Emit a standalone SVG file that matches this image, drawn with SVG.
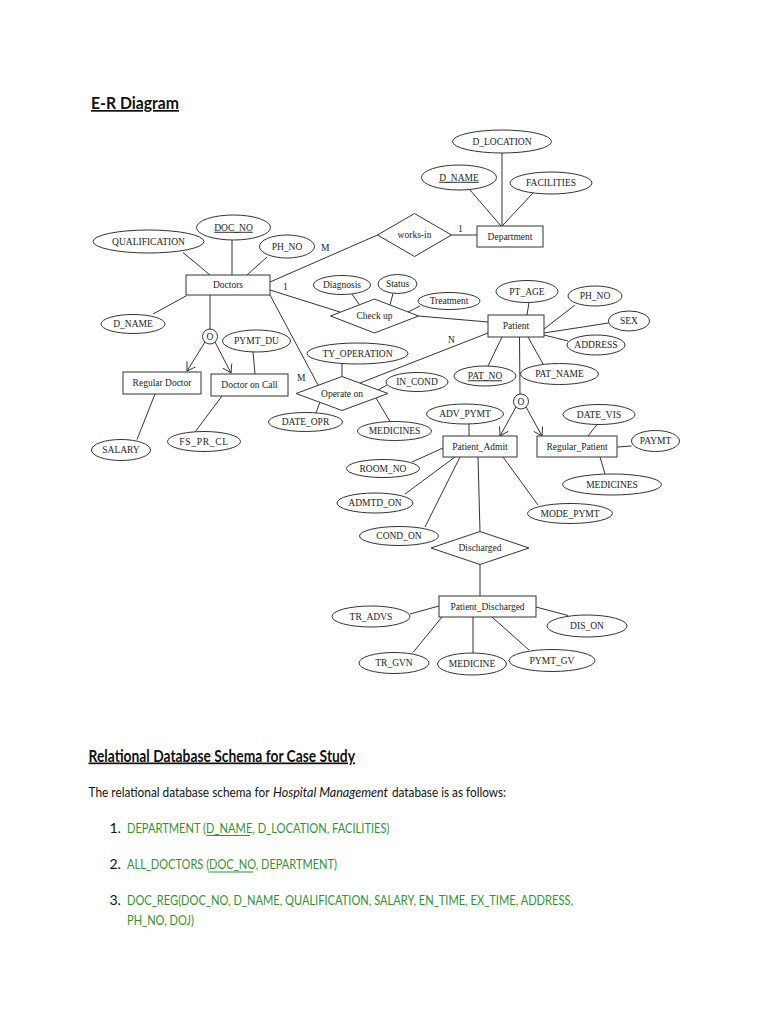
<svg xmlns="http://www.w3.org/2000/svg" width="768" height="1024" viewBox="0 0 768 1024">
<style>
.e{fill:#fff;stroke:#333;stroke-width:1}
.r{fill:#fff;stroke:#333;stroke-width:1}
.t{font-family:"Liberation Serif","Times New Roman",serif;font-size:9.5px;fill:#222;text-anchor:middle}
.c line{stroke:#333;stroke-width:1}
.lbl{font-family:"Liberation Serif","Times New Roman",serif;font-size:9.5px;fill:#222}
.h{font-family:Lato,"Liberation Sans",sans-serif;font-weight:bold;font-size:17px;fill:#111;text-decoration:underline}
.b{font-family:Lato,"Liberation Sans",sans-serif;font-size:14px;fill:#111}
.g{font-family:Lato,"Liberation Sans",sans-serif;font-size:14px;fill:#2f922f}
.n{font-family:Lato,"Liberation Sans",sans-serif;font-size:14px;fill:#111}
.u{text-decoration:underline}
.gu{stroke:#2f922f;stroke-width:1}
</style>
<defs>
<marker id="v" markerWidth="12" markerHeight="12" refX="10" refY="6" orient="auto" markerUnits="userSpaceOnUse">
<path d="M2,1 L10,6 L2,11" fill="none" stroke="#333" stroke-width="1"/>
</marker>
</defs>
<rect width="768" height="1024" fill="#fff"/>
<text class="h" x="91" y="109" textLength="88" lengthAdjust="spacingAndGlyphs">E-R Diagram</text>

<g id="connectors" class="c">
<line x1="502" y1="153" x2="502" y2="226"/>
<line x1="470" y1="190" x2="501" y2="226"/>
<line x1="533" y1="193" x2="502" y2="226"/>
<line x1="451.5" y1="235" x2="477" y2="235"/>
<line x1="270" y1="282" x2="377.5" y2="235"/>
<line x1="183" y1="252.5" x2="210" y2="275"/>
<line x1="232" y1="240" x2="232" y2="275"/>
<line x1="267" y1="257" x2="247" y2="275"/>
<line x1="186" y1="296" x2="153" y2="314"/>
<line x1="210" y1="295" x2="210" y2="329"/>
<line x1="205" y1="342" x2="187" y2="371" marker-end="url(#v)"/>
<line x1="215" y1="342" x2="231" y2="373" marker-end="url(#v)"/>
<line x1="253" y1="352" x2="255" y2="374"/>
<line x1="155" y1="394" x2="137" y2="439.5"/>
<line x1="222" y1="396" x2="195" y2="432"/>
<line x1="270" y1="290" x2="340" y2="312"/>
<line x1="352" y1="294" x2="360" y2="305.5"/>
<line x1="393" y1="293.5" x2="390" y2="305"/>
<line x1="420" y1="306" x2="408" y2="312"/>
<line x1="418.5" y1="316" x2="488" y2="322"/>
<line x1="270" y1="295" x2="318" y2="385"/>
<line x1="342" y1="364" x2="342" y2="376.5"/>
<line x1="387" y1="385" x2="378" y2="390"/>
<line x1="320" y1="402" x2="316" y2="413"/>
<line x1="376" y1="398" x2="390" y2="421.5"/>
<line x1="360" y1="383" x2="488" y2="333"/>
<line x1="529" y1="302.5" x2="527" y2="315"/>
<line x1="575" y1="305" x2="544" y2="329"/>
<line x1="608.5" y1="323" x2="544" y2="333"/>
<line x1="568" y1="341" x2="544" y2="335"/>
<line x1="488" y1="366" x2="502" y2="337"/>
<line x1="543" y1="364" x2="528" y2="337"/>
<line x1="519.5" y1="337" x2="520" y2="394"/>
<line x1="516" y1="407" x2="500" y2="436" marker-end="url(#v)"/>
<line x1="526" y1="407" x2="542" y2="436" marker-end="url(#v)"/>
<line x1="469" y1="424" x2="469" y2="436"/>
<line x1="597" y1="424.5" x2="588" y2="436"/>
<line x1="631.5" y1="446" x2="617" y2="447"/>
<line x1="605" y1="474" x2="600" y2="457"/>
<line x1="412" y1="462" x2="443" y2="448"/>
<line x1="405" y1="494" x2="455" y2="457"/>
<line x1="425" y1="527" x2="460" y2="457"/>
<line x1="538" y1="505" x2="503" y2="457"/>
<line x1="478" y1="457" x2="480" y2="531.5"/>
<line x1="480" y1="564.5" x2="480" y2="596"/>
<line x1="410" y1="614" x2="439" y2="606"/>
<line x1="568" y1="615.5" x2="536" y2="607"/>
<line x1="413" y1="652.5" x2="442" y2="617"/>
<line x1="473" y1="653" x2="473" y2="617"/>
<line x1="529" y1="650" x2="492" y2="617"/>
<text class="lbl" x="458" y="232">1</text>
<text class="lbl" x="321" y="251">M</text>
<text class="lbl" x="283" y="290">1</text>
<text class="lbl" x="297" y="381">M</text>
<text class="lbl" x="448" y="343">N</text>
</g>

<g id="D_LOCATION"><ellipse class="e" cx="502" cy="141.5" rx="49.5" ry="11.5"/><text class="t" x="502" y="144.8">D_LOCATION</text></g>
<g id="DEPT_D_NAME"><ellipse class="e" cx="459" cy="177.5" rx="37.5" ry="12.5"/><text class="t u" x="459" y="180.8">D_NAME</text></g>
<g id="FACILITIES"><ellipse class="e" cx="551" cy="183" rx="41" ry="11"/><text class="t" x="551" y="186.3">FACILITIES</text></g>
<g id="Department"><rect class="r" x="477" y="226" width="66" height="21"/><text class="t" x="510" y="239.8">Department</text></g>
<g id="works-in"><polygon class="r" points="377.5,235 414.5,213.5 451.5,235 414.5,256.5"/><text class="t" x="414.5" y="238.3">works-in</text></g>

<g id="DOC_NO"><ellipse class="e" cx="233.5" cy="227.5" rx="37" ry="12.5"/><text class="t u" x="233.5" y="230.8">DOC_NO</text></g>
<g id="QUALIFICATION"><ellipse class="e" cx="148.5" cy="241.5" rx="55.5" ry="11.5"/><text class="t" x="148.5" y="244.8">QUALIFICATION</text></g>
<g id="DOC_PH_NO"><ellipse class="e" cx="287" cy="246.5" rx="27.5" ry="11.5"/><text class="t" x="287" y="249.8">PH_NO</text></g>
<g id="Doctors"><rect class="r" x="186" y="275" width="84" height="20"/><text class="t" x="228" y="288.3">Doctors</text></g>
<g id="DOC_D_NAME"><ellipse class="e" cx="133" cy="324" rx="32" ry="9.5"/><text class="t" x="133" y="327.3">D_NAME</text></g>
<g id="O_doctor"><circle class="e" cx="210" cy="336.5" r="7.5"/><text class="t" x="210" y="339.8">O</text></g>
<g id="PYMT_DU"><ellipse class="e" cx="256.5" cy="341" rx="34" ry="11"/><text class="t" x="256.5" y="344.3">PYMT_DU</text></g>
<g id="Regular_Doctor"><rect class="r" x="123" y="372" width="78" height="22"/><text class="t" x="162" y="386.3">Regular Doctor</text></g>
<g id="Doctor_on_Call"><rect class="r" x="211" y="374" width="77" height="22"/><text class="t" x="249.5" y="388.3">Doctor on Call</text></g>
<g id="SALARY"><ellipse class="e" cx="121" cy="450" rx="29.5" ry="10.5"/><text class="t" x="121" y="453.3">SALARY</text></g>
<g id="FS_PR_CL"><ellipse class="e" cx="204" cy="441.5" rx="36.5" ry="10"/><text class="t" x="204" y="444.8" letter-spacing="0.7">FS_PR_CL</text></g>

<g id="Diagnosis"><ellipse class="e" cx="342" cy="285" rx="28.5" ry="9.5"/><text class="t" x="342" y="288.3">Diagnosis</text></g>
<g id="Status"><ellipse class="e" cx="397.5" cy="284" rx="19.5" ry="9.5"/><text class="t" x="397.5" y="287.3">Status</text></g>
<g id="Treatment"><ellipse class="e" cx="449" cy="301" rx="31" ry="8.5"/><text class="t" x="449" y="304.3">Treatment</text></g>
<g id="Check_up"><polygon class="r" points="330.5,316 374.5,299 418.5,316 374.5,333"/><text class="t" x="374.5" y="319.3">Check up</text></g>

<g id="TY_OPERATION"><ellipse class="e" cx="357.5" cy="353.5" rx="50.5" ry="10.5"/><text class="t" x="357.5" y="356.8">TY_OPERATION</text></g>
<g id="IN_COND"><ellipse class="e" cx="417" cy="382" rx="31" ry="9.5"/><text class="t" x="417" y="385.3">IN_COND</text></g>
<g id="Operate_on"><polygon class="r" points="296,393.5 342,376.5 388,393.5 342,410.5"/><text class="t" x="342" y="396.8">Operate on</text></g>
<g id="DATE_OPR"><ellipse class="e" cx="305.5" cy="422" rx="37" ry="9.5"/><text class="t" x="305.5" y="425.3">DATE_OPR</text></g>
<g id="OP_MEDICINES"><ellipse class="e" cx="394.5" cy="431" rx="37" ry="9.5"/><text class="t" x="394.5" y="434.3">MEDICINES</text></g>

<g id="PT_AGE"><ellipse class="e" cx="527" cy="291.5" rx="31" ry="11"/><text class="t" x="527" y="294.8">PT_AGE</text></g>
<g id="PAT_PH_NO"><ellipse class="e" cx="595" cy="296" rx="27" ry="10"/><text class="t" x="595" y="299.3">PH_NO</text></g>
<g id="SEX"><ellipse class="e" cx="629" cy="321" rx="20.5" ry="10"/><text class="t" x="629" y="324.3">SEX</text></g>
<g id="ADDRESS"><ellipse class="e" cx="596" cy="345" rx="29" ry="10"/><text class="t" x="596" y="348.3">ADDRESS</text></g>
<g id="Patient"><rect class="r" x="488" y="315" width="56" height="22"/><text class="t" x="516" y="329.3">Patient</text></g>
<g id="PAT_NO"><ellipse class="e" cx="485" cy="376" rx="31" ry="10"/><text class="t u" x="485" y="379.3">PAT_NO</text></g>
<g id="PAT_NAME"><ellipse class="e" cx="559.5" cy="374" rx="39" ry="10.5"/><text class="t" x="559.5" y="377.3">PAT_NAME</text></g>
<g id="O_patient"><circle class="e" cx="521" cy="401.5" r="7.5"/><text class="t" x="521" y="404.8">O</text></g>

<g id="ADV_PYMT"><ellipse class="e" cx="465" cy="414" rx="38.5" ry="10"/><text class="t" x="465" y="417.3">ADV_PYMT</text></g>
<g id="DATE_VIS"><ellipse class="e" cx="599" cy="414.5" rx="36" ry="10"/><text class="t" x="599" y="417.8">DATE_VIS</text></g>
<g id="Patient_Admit"><rect class="r" x="443" y="436" width="74" height="21"/><text class="t" x="480" y="449.8">Patient_Admit</text></g>
<g id="Regular_Patient"><rect class="r" x="537" y="436" width="80" height="21"/><text class="t" x="577" y="449.8">Regular_Patient</text></g>
<g id="PAYMT"><ellipse class="e" cx="655.5" cy="441" rx="24" ry="10.5"/><text class="t" x="655.5" y="444.3">PAYMT</text></g>
<g id="REG_MEDICINES"><ellipse class="e" cx="612" cy="484.5" rx="49.5" ry="10.5"/><text class="t" x="612" y="487.8">MEDICINES</text></g>
<g id="ROOM_NO"><ellipse class="e" cx="383" cy="468.5" rx="36.5" ry="9"/><text class="t" x="383" y="471.8">ROOM_NO</text></g>
<g id="ADMTD_ON"><ellipse class="e" cx="375" cy="503" rx="38" ry="10"/><text class="t" x="375" y="506.3">ADMTD_ON</text></g>
<g id="COND_ON"><ellipse class="e" cx="399" cy="536" rx="39.5" ry="9.5"/><text class="t" x="399" y="539.3">COND_ON</text></g>
<g id="MODE_PYMT"><ellipse class="e" cx="570" cy="513.5" rx="42.5" ry="10"/><text class="t" x="570" y="516.8">MODE_PYMT</text></g>
<g id="Discharged"><polygon class="r" points="431,548 480,531.5 529,548 480,564.5"/><text class="t" x="480" y="551.3">Discharged</text></g>

<g id="Patient_Discharged"><rect class="r" x="439" y="596" width="97" height="21"/><text class="t" x="487.5" y="609.8">Patient_Discharged</text></g>
<g id="TR_ADVS"><ellipse class="e" cx="371" cy="616.5" rx="39" ry="10.5"/><text class="t" x="371" y="619.8">TR_ADVS</text></g>
<g id="DIS_ON"><ellipse class="e" cx="587" cy="626" rx="40" ry="11"/><text class="t" x="587" y="629.3">DIS_ON</text></g>
<g id="TR_GVN"><ellipse class="e" cx="394" cy="663" rx="35" ry="10.5"/><text class="t" x="394" y="666.3">TR_GVN</text></g>
<g id="MEDICINE"><ellipse class="e" cx="472" cy="664" rx="34.5" ry="11"/><text class="t" x="472" y="667.3">MEDICINE</text></g>
<g id="PYMT_GV"><ellipse class="e" cx="552" cy="660.5" rx="43" ry="11"/><text class="t" x="552" y="663.8">PYMT_GV</text></g>

<text class="h" x="88.5" y="761.5" textLength="266.5" lengthAdjust="spacingAndGlyphs">Relational Database Schema for Case Study</text>
<text class="b" x="88.5" y="796.5" textLength="181" lengthAdjust="spacingAndGlyphs">The relational database schema for</text>
<text class="b" x="273" y="796.5" textLength="115" lengthAdjust="spacingAndGlyphs" font-style="italic">Hospital Management</text>
<text class="b" x="392" y="796.5" textLength="114" lengthAdjust="spacingAndGlyphs">database is as follows:</text>
<text class="n" x="109.5" y="832.5">1.</text>
<text class="g" x="127" y="832.5" textLength="262.5" lengthAdjust="spacingAndGlyphs">DEPARTMENT (D_NAME, D_LOCATION, FACILITIES)</text>
<line class="gu" x1="206.5" y1="835.5" x2="250" y2="835.5"/>
<text class="n" x="109.5" y="869">2.</text>
<text class="g" x="127" y="869" textLength="210" lengthAdjust="spacingAndGlyphs">ALL_DOCTORS (DOC_NO, DEPARTMENT)</text>
<line class="gu" x1="208.5" y1="872" x2="253" y2="872"/>
<text class="n" x="109.5" y="905">3.</text>
<text class="g" x="127" y="905" textLength="446" lengthAdjust="spacingAndGlyphs">DOC_REG(DOC_NO, D_NAME, QUALIFICATION, SALARY, EN_TIME, EX_TIME, ADDRESS,</text>
<text class="g" x="127" y="925" textLength="67" lengthAdjust="spacingAndGlyphs">PH_NO, DOJ)</text>
</svg>
